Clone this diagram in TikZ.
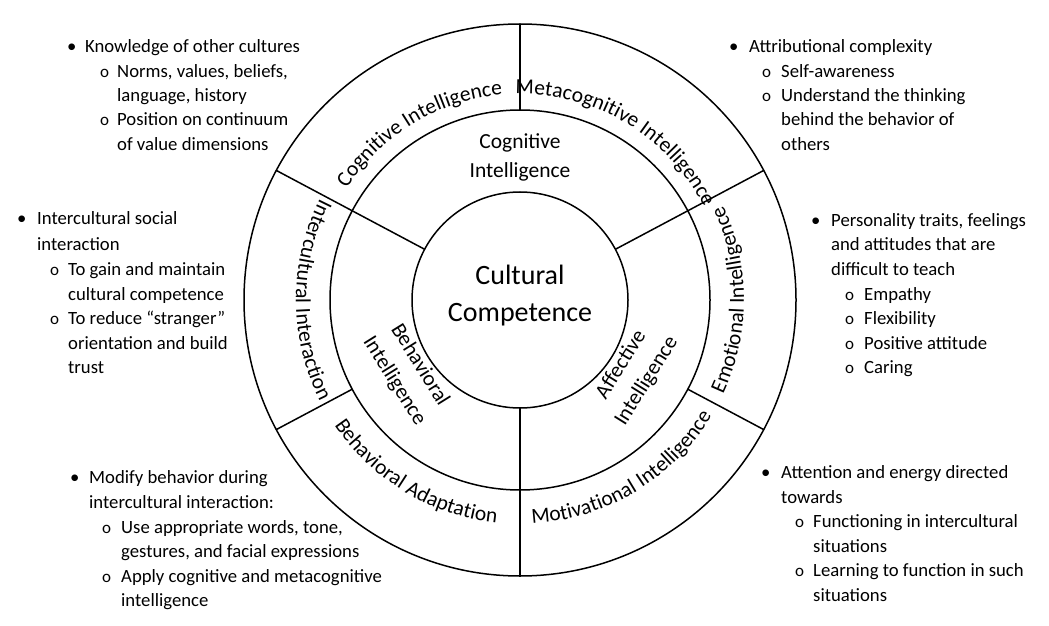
\documentclass[tikz,border=0pt]{standalone}
\usepackage{fontspec}
\setmainfont{Carlito}
\usetikzlibrary{decorations.text,calc}
\newcommand\ringf{\fontsize{21.5}{25}\selectfont}
\newcommand\tl[4]{\node[txt] (#1) at (#2,625-#3-6) {#4};}
\newcommand\bl[3]{\node[txt] at (#1,625-#2-6) {•};}
\newcommand\sbl[3]{\node[txt] at (#1,625-#2-6) {\fontsize{17}{17}\selectfont o};}
\begin{document}
\begin{tikzpicture}[x=1pt,y=1pt,
  txt/.style={anchor=base west,inner sep=0pt,font=\fontsize{18.7}{22}\selectfont},
  ring/.style={circle,draw,line width=1.5pt,inner sep=0pt,outer sep=0pt},
  div/.style={line width=1.5pt},
  cw/.style={decorate,decoration={text along path,text align=center,text={|\ringf|#1}}}]
\useasboundingbox (0,0) rectangle (1049,625);
\coordinate (C) at (520,325);
\node[ring,minimum size=552pt] (outer) at (C) {};
\node[ring,minimum size=380pt] (mid) at (C) {};
\node[ring,minimum size=216pt] (inner) at (C) {};
\foreach \a in {28,152,270} \draw[div] (inner.\a) -- (outer.\a);
\foreach \a in {90,208,332} \draw[div] (mid.\a) -- (outer.\a);
% outer labels
\path[cw={Cognitive Intelligence}] ($(C)+(152:206)$) arc[start angle=152,end angle=90,radius=206];
\path[cw={Metacognitive Intelligence}] ($(C)+(90:206)$) arc[start angle=90,end angle=28,radius=206];
\path[cw={Emotional Intelligence}] ($(C)+(-28:224)$) arc[start angle=-28,end angle=28,radius=224];
\path[cw={Motivational Intelligence}] ($(C)+(270:224)$) arc[start angle=270,end angle=332,radius=224];
\path[cw={Behavioral Adaptation}] ($(C)+(208:224)$) arc[start angle=208,end angle=270,radius=224];
\path[cw={Intercultural Interaction}] ($(C)+(152:224)$) arc[start angle=152,end angle=208,radius=224];
% middle labels
\node[align=center,font=\ringf,inner sep=0pt] (cogm) at (520,625-157) {Cognitive\\[4pt]Intelligence};
\node[align=center,font=\ringf,inner sep=0pt,rotate=-58] (behm) at (407,625-373) {Behavioral\\[5pt]Intelligence};
\node[align=center,font=\ringf,inner sep=0pt,rotate=58] (affm) at (634,625-373) {Affective\\[5pt]Intelligence};
\node[align=center,font=\fontsize{28}{32}\selectfont,inner sep=0pt] (cc) at (520,625-296) {Cultural\\[5pt]Competence};
% top-left
\bl{67}{47}{}\tl{a1}{85}{47}{Knowledge of other cultures}
\sbl{100}{72}{}\tl{a2}{117}{72}{Norms, values, beliefs,}
\tl{a3}{117}{96}{language, history}
\sbl{100}{120}{}\tl{a4}{117}{120}{Position on continuum}
\tl{a5}{117}{145}{of value dimensions}
% left
\bl{17}{219}{}\tl{b1}{37}{219}{Intercultural social}
\tl{b2}{37}{244}{interaction}
\sbl{50}{269}{}\tl{b3}{68}{269}{To gain and maintain}
\tl{b4}{68}{294}{cultural competence}
\sbl{50}{318}{}\tl{b5}{68}{318}{To reduce “stranger”}
\tl{b6}{68}{343}{orientation and build}
\tl{b7}{68}{367}{trust}
% top-right
\bl{729}{47}{}\tl{c1}{749}{47}{Attributional complexity}
\sbl{762}{72}{}\tl{c2}{781}{72}{Self-awareness}
\sbl{762}{96}{}\tl{c3}{781}{96}{Understand the thinking}
\tl{c4}{781}{120}{behind the behavior of}
\tl{c5}{781}{145}{others}
% right
\bl{811}{220}{}\tl{d1}{831}{220}{Personality traits, feelings}
\tl{d2}{831}{245}{and attitudes that are}
\tl{d3}{831}{269}{difficult to teach}
\sbl{845}{294}{}\tl{d4}{864}{294}{Empathy}
\sbl{845}{318}{}\tl{d5}{864}{318}{Flexibility}
\sbl{845}{343}{}\tl{d6}{864}{343}{Positive attitude}
\sbl{845}{367}{}\tl{d7}{864}{367}{Caring}
% bottom-left
\bl{70}{477}{}\tl{e1}{89}{477}{Modify behavior during}
\tl{e2}{89}{502}{intercultural interaction:}
\sbl{102}{527}{}\tl{e3}{121}{527}{Use appropriate words, tone,}
\tl{e4}{121}{551}{gestures, and facial expressions}
\sbl{102}{576}{}\tl{e5}{121}{576}{Apply cognitive and metacognitive}
\tl{e6}{121}{600}{intelligence}
% bottom-right
\bl{761}{472}{}\tl{f1}{781}{472}{Attention and energy directed}
\tl{f2}{781}{497}{towards}
\sbl{795}{521}{}\tl{f3}{813}{521}{Functioning in intercultural}
\tl{f4}{813}{546}{situations}
\sbl{795}{570}{}\tl{f5}{813}{570}{Learning to function in such}
\tl{f6}{813}{595}{situations}
\end{tikzpicture}
\end{document}
